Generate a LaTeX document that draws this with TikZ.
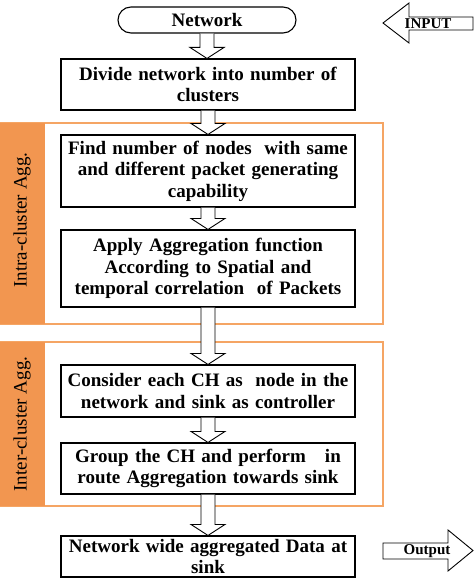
\documentclass[tikz,border=0pt]{standalone}
\usepackage{fontspec}
\setmainfont{Liberation Serif}
\usetikzlibrary{calc}
\definecolor{orfill}{RGB}{242,150,80}
\definecolor{orline}{RGB}{245,165,100}
\tikzset{
 box/.style={draw=black, line width=1.1pt, fill=white, minimum width=294pt, text width=292pt, align=center, font=\fontsize{19}{21.5}\selectfont\bfseries, inner sep=0pt},
 blk/.style={draw=black, line width=0.9pt, fill=white, line join=miter},
 frame/.style={draw=orline, line width=1.2pt},
 sidelbl/.style={rotate=90, font=\fontsize{19}{20}\selectfont, inner sep=0pt},
 tag/.style={font=\fontsize{15}{15}\selectfont\bfseries, inner sep=0pt}
}
\newcommand\blockarrow[2]{%
 \draw[blk] let \p1=(#1.south), \p2=(#2.north) in
 (\x1-7pt,\y1) -- (\x1-7pt,\y2+11pt) -- (\x1-17pt,\y2+11pt) -- (\x1,\y2) --
 (\x1+17pt,\y2+11pt) -- (\x1+7pt,\y2+11pt) -- (\x1+7pt,\y1);}
\begin{document}
\begin{tikzpicture}[x=1pt,y=-1pt]
\useasboundingbox[fill=white] (0,0) rectangle (474,578);
% frames
\draw[frame] (0,123) rectangle (383,324);
\fill[orfill] (0,123) rectangle (45,324);
\node[sidelbl] (intra) at (22,220) {Intra-cluster Agg.};
\draw[frame] (0,342) rectangle (383,506);
\fill[orfill] (0,342) rectangle (45,506);
\node[sidelbl] (inter) at (22,424) {Inter-cluster Agg.};
% boxes
\node[box, minimum width=178pt, text width=176pt, minimum height=26pt, rounded corners=13pt] (net) at (207,20) {Network};
\node[box, minimum height=51pt] (divide) at (208,84.5) {Divide network into number of\\clusters};
\node[box, minimum height=72pt] (find) at (208,171) {Find number of nodes\ \ with same\\and different packet generating\\capability};
\node[box, minimum height=77pt] (apply) at (208,268.5) {Apply Aggregation function\\According to Spatial and\\temporal correlation\ \ of Packets};
\node[box, minimum height=52pt] (consider) at (208,391) {Consider each CH as\ \ node in the\\network and sink as controller};
\node[box, minimum height=51pt] (group) at (208,468.5) {Group the CH and perform\ \ \ in\\route Aggregation towards sink};
\node[box, minimum height=41pt] (wide) at (208,556.5) {Network wide aggregated Data at\\sink};
% connectors
\blockarrow{net}{divide}
\blockarrow{divide}{find}
\blockarrow{find}{apply}
\blockarrow{apply}{consider}
\blockarrow{consider}{group}
\blockarrow{group}{wide}
% input / output arrows
\draw[blk] (383,23) -- (409,3) -- (409,17) -- (473,17) -- (473,30) -- (409,30) -- (409,43) -- cycle;
\node[tag] (inp) at (428,23.5) {INPUT};
\draw[blk] (383,543) -- (448,543) -- (448,530) -- (473,550.5) -- (448,571) -- (448,559) -- (383,559) -- cycle;
\node[tag] (outp) at (427,551) {Output};
\end{tikzpicture}
\end{document}
